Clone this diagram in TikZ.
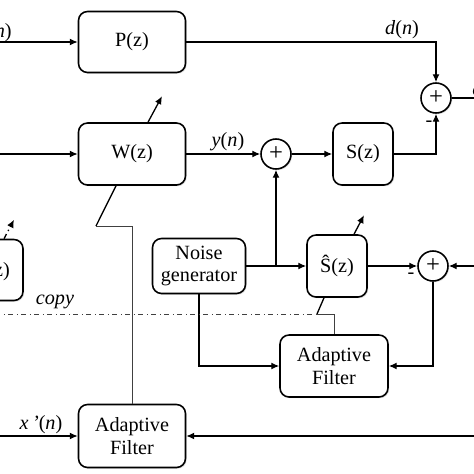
\documentclass[tikz,border=0pt]{standalone}
\usepackage{fontspec}
\setmainfont{Liberation Serif}
\usetikzlibrary{arrows.meta,shadows}

\tikzset{
  block/.style={draw, line width=0.9pt, rounded corners=0.18cm, align=center,
    font=\fontsize{11.5}{13}\selectfont, fill=white,
    drop shadow={shadow xshift=0.7pt, shadow yshift=-0.7pt, opacity=0.25}},
  sumnode/.style={draw, circle, line width=0.9pt, minimum size=0.6cm, inner sep=0pt,
    fill=white, font=\fontsize{14}{14}\selectfont,
    drop shadow={shadow xshift=0.7pt, shadow yshift=-0.7pt, opacity=0.25}},
  arr/.style={line width=0.75pt, -{Latex[length=4.5pt, width=4pt]}},
  adapt/.style={line width=0.75pt, -{Latex[length=4.5pt, width=4pt]}},
  thinline/.style={line width=0.4pt, black!75},
  copyline/.style={line width=0.4pt, black!75, dash dot},
  lab/.style={font=\fontsize{11.5}{13}\selectfont, inner sep=0pt}
}

\begin{document}
\begin{tikzpicture}[x=0.02cm, y=-0.02cm]
    \useasboundingbox (0,0) rectangle (474,474);
    \clip (0,0) rectangle (474,474);

    \node[block, minimum width=2.14cm, minimum height=1.22cm] (pz) at (132,42) {P(z)};
    \node[block, minimum width=2.14cm, minimum height=1.24cm] (wz) at (132,154) {W(z)};
    \node[block, minimum width=1.2cm, minimum height=1.24cm] (sz) at (363,154) {S(z)};
    \node[block, minimum width=1.2cm, minimum height=1.24cm] (shz) at (337,266) {Ŝ(z)};
    \node[block, minimum width=1.2cm, minimum height=1.22cm] (shcopy) at (-7,270) {Ŝ(z)};
    \node[block, minimum width=1.86cm, minimum height=1.1cm, inner sep=1pt] (noise) at (199,266) {Noise\\generator};
    \node[block, minimum width=2.16cm, minimum height=1.24cm, inner sep=1pt] (af1) at (334,366) {Adaptive\\Filter};
    \node[block, minimum width=2.14cm, minimum height=1.26cm, inner sep=1pt] (af2) at (132,436) {Adaptive\\Filter};
    \node[sumnode] (sum1) at (436,98) {+};
    \node[sumnode] (sum2) at (276,154) {+};
    \node[sumnode] (sum3) at (433,266) {+};

    \coordinate (inP) at (-5,42);
    \coordinate (inW) at (-5,154);
    \coordinate (inAF) at (-5,436);
    \coordinate (eout) at (480,98);
    \coordinate (inR) at (480,266);
    \coordinate (inB) at (480,436);
    \coordinate (cpL) at (-5,314);
    \coordinate (cpR) at (317,314);
    \coordinate (wfb) at (96,226);

    \draw[arr] (inP) -- (pz);
    \draw[arr] (pz) -| (sum1);
    \draw[line width=0.75pt] (sum1) -- (eout);
    \draw[arr] (sz) -| (sum1);
    \draw[arr] (inW) -- (wz);
    \draw[arr] (wz) -- (sum2);
    \draw[arr] (sum2) -- (sz);
    \draw[arr] (noise) -- (shz);
    \draw[arr] (sum2 |- noise) -- (sum2);
    \draw[arr] (noise) |- (af1);
    \draw[arr] (shz) -- (sum3);
    \draw[arr] (inR) -- (sum3);
    \draw[arr] (sum3) |- (af1);
    \draw[arr] (inAF) -- (af2);
    \draw[arr] (inB) -- (af2);

    \draw[adapt] ([xshift=0.32cm]wz.north) -- ++(14,-26);
    \draw[adapt] ([xshift=0.34cm]shz.north) -- ++(10,-19);
    \draw[adapt, dash dot] ([xshift=0.22cm]shcopy.north) -- ++(10,-19);

    \draw[line width=0.75pt] ([xshift=-0.32cm]wz.south) -- (wfb);
    \draw[thinline] (wfb) -| (af2.north);
    \draw[line width=0.75pt] ([xshift=-0.26cm]shz.south) -- (cpR);
    \draw[thinline] (cpR) -| (af1.north);
    \draw[copyline] (cpL) -- (cpR);

    \node[lab, anchor=base east] (xlab) at (12,37) {\textit{x}(\textit{n})};
    \node[lab] (dlab) at (402,30) {\textit{d}(\textit{n})};
    \node[lab, anchor=base west] (elab) at (472,95) {\textit{e}(\textit{n})};
    \node[lab] (ylab) at (228,142) {\textit{y}(\textit{n})};
    \node[lab] (xplab) at (41,425) {\textit{x\,'}(\textit{n})};
    \node[lab] (cplab) at (55,302) {\textit{copy}};
    \node[lab] (m1) at (429,124) {-};
    \node[lab] (m3) at (411,276) {-};
\end{tikzpicture}
\end{document}
